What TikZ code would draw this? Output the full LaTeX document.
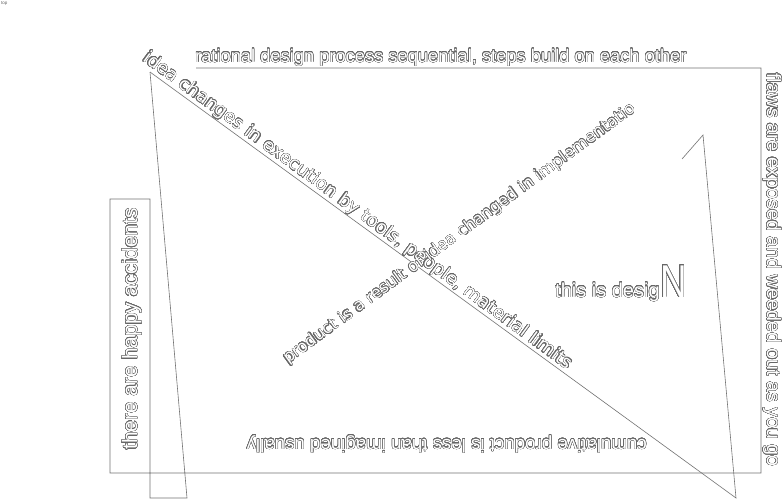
\documentclass[tikz,border=0pt]{standalone}
\usepackage{fontspec}
\usepackage{contour}
\setmainfont{Liberation Sans}
\newfontfamily\djv{DejaVu Sans}
\definecolor{ink}{rgb}{0.40,0.40,0.40}
\definecolor{rulecol}{rgb}{0.45,0.45,0.45}
\contourlength{0.35pt}
\contournumber{24}
\newcommand\hollow[1]{\contour{ink}{\textcolor{white}{#1}}}
\newcommand\fsz[1]{\fontsize{#1}{#1}\selectfont}
\begin{document}
\begin{tikzpicture}[x=1pt,y=1pt,
  lbl/.style={inner sep=0pt, text=ink},
  ln/.style={draw=rulecol, line width=0.6pt}]
\useasboundingbox (0,0) rectangle (784,-499);
\fill[white] (0,0) rectangle (784,-499);
% connectors
\coordinate (o) at (150,-72);
\coordinate (rb) at (736,-498);
\coordinate (rt) at (703,-135);
\coordinate (rs) at (682,-159);
\coordinate (lb) at (187,-498);
\coordinate (lc) at (150,-498);
\coordinate (bxr) at (150,-199);
\coordinate (bxl) at (110,-199);
\coordinate (bl) at (110,-473);
\coordinate (br) at (761,-473);
\coordinate (tr) at (761,-68);
\coordinate (tl) at (196,-68);
\draw[ln] (o) -- (rb) -- (rt) -- (rs);
\draw[ln] (o) -- (lb) -- (lc) -- (bxr) -- (bxl) -- (bl) -- (br) -- (tr) -- (tl);
% texts
\node[lbl, anchor=north west, font=\fsz{4.5}] (tp) at (1,-1) {top};
\node[lbl, anchor=base west, font=\fsz{18.3}] (ttl) at (195,-62) {\hollow{rational design process sequential, steps build on each other}};
\node[lbl, anchor=base west, rotate=-90, font=\fsz{19.6}] (flw) at (767,-73) {\hollow{flaws are exposed and weeded out as you go}};
\node[lbl, anchor=base west, rotate=90, font=\fsz{21}] (hap) at (137,-450) {\hollow{there are happy accidents}};
\node[lbl, anchor=base west, rotate=180, font=\fsz{18.7}] (cum) at (647,-439) {\hollow{cumulative product is less than imagined usually}};
\node[lbl, anchor=base west, font=\fsz{20}] (des) at (555,-297) {\hollow{this is desig}};
\node[lbl, anchor=base west, font=\fsz{46}, xscale=0.8] (bigN) at (des.base east) {\hollow{N}};
\node[lbl, anchor=base west, rotate=-36.06, font=\djv\fsz{18}] (idea) at (142,-60) {\hollow{idea changes in execution by tools, people, material limits}};
\node[lbl, anchor=base west, rotate=36, font=\djv\fsz{16.4}] (prod) at (288,-364) {\hollow{product is a result of idea changed in implementatio}};
\end{tikzpicture}
\end{document}
